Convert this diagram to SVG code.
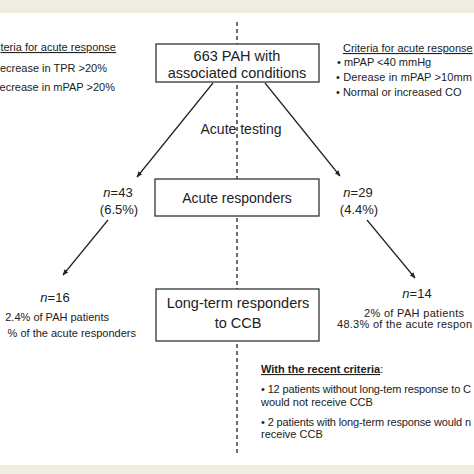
<svg xmlns="http://www.w3.org/2000/svg" width="474" height="474" viewBox="0 0 474 474">
<defs>
<style>
text{font-family:"Liberation Sans",Arial,sans-serif;fill:#222}
.box{fill:#fff;stroke:#333;stroke-width:1.3}
.conn{stroke:#222;stroke-width:1.2;fill:none}
.dash{stroke:#222;stroke-width:1.3;stroke-dasharray:4 3;fill:none}
.m{font-size:14.5px;text-anchor:middle}
.s{font-size:11px}
.n{font-size:13px;text-anchor:middle}
.u{text-decoration:underline}
</style>
<marker id="ah" viewBox="0 0 10 10" refX="9" refY="5" markerWidth="6" markerHeight="6" orient="auto" markerUnits="userSpaceOnUse">
<path d="M0,1 L10,5 L0,9 Z" fill="#222"/>
</marker>
</defs>
<rect width="474" height="474" fill="#fff"/>
<rect x="0" y="0" width="474" height="13" fill="#f0ece1"/>
<rect x="0" y="465" width="474" height="9" fill="#f0ece1"/>
<g id="connectors">
<line class="dash" x1="237" y1="22" x2="237" y2="456"/>
<line class="conn" x1="213" y1="83" x2="137" y2="177" marker-end="url(#ah)"/>
<line class="conn" x1="265" y1="83" x2="340" y2="176" marker-end="url(#ah)"/>
<line class="conn" x1="108" y1="220" x2="63" y2="275" marker-end="url(#ah)"/>
<line class="conn" x1="367" y1="220" x2="415" y2="278" marker-end="url(#ah)"/>
</g>
<g id="node-pah">
<rect class="box" x="156" y="44" width="163" height="38"/>
<text class="m" x="237" y="61">663 PAH with</text>
<text class="m" x="237" y="78">associated conditions</text>
</g>
<g id="label-acute-testing">
<text class="m" x="241" y="134" style="font-size:14px">Acute testing</text>
</g>
<g id="node-acute-responders">
<rect class="box" x="155" y="179" width="164" height="37"/>
<text class="m" x="237" y="203" style="font-size:14px">Acute responders</text>
</g>
<g id="node-long-term">
<rect class="box" x="156" y="289" width="163" height="52"/>
<text class="m" x="238" y="308">Long-term responders</text>
<text class="m" x="238" y="328">to CCB</text>
</g>
<g id="left-criteria">
<text class="s u" x="116" y="51" text-anchor="end">teria for acute response</text>
<text class="s" x="107" y="72" text-anchor="end">ecrease in TPR &gt;20%</text>
<text class="s" x="115" y="91" text-anchor="end">ecrease in mPAP &gt;20%</text>
</g>
<g id="right-criteria">
<text class="s u" x="343" y="52">Criteria for acute response</text>
<text class="s" x="337" y="66">• mPAP &lt;40 mmHg</text>
<text class="s" x="336" y="81" textLength="136" lengthAdjust="spacing">•  Derease in mPAP &gt;10mm</text>
<text class="s" x="336" y="96">•  Normal or increased CO</text>
</g>
<g id="left-n43">
<text class="n" x="118" y="197"><tspan font-style="italic">n</tspan>=43</text>
<text class="n" x="119" y="214">(6.5%)</text>
</g>
<g id="right-n29">
<text class="n" x="358" y="197"><tspan font-style="italic">n</tspan>=29</text>
<text class="n" x="359" y="214">(4.4%)</text>
</g>
<g id="left-n16">
<text class="n" x="55" y="302"><tspan font-style="italic">n</tspan>=16</text>
<text class="s" x="109" y="321" text-anchor="end">2.4% of PAH patients</text>
<text class="s" x="136" y="337" text-anchor="end">% of the acute responders</text>
</g>
<g id="right-n14">
<text class="n" x="417" y="298"><tspan font-style="italic">n</tspan>=14</text>
<text class="s" x="364" y="317" textLength="100" lengthAdjust="spacing">2% of PAH patients</text>
<text class="s" x="337" y="328" textLength="135" lengthAdjust="spacing">48.3% of the acute respon</text>
</g>
<g id="recent-criteria">
<text class="s" x="261" y="373"><tspan class="u" font-weight="bold">With the recent criteria</tspan>:</text>
<text class="s" x="261" y="393" textLength="210" lengthAdjust="spacing">• 12 patients without long-tem response to C</text>
<text class="s" x="261" y="406">would not receive CCB</text>
<text class="s" x="261" y="426" textLength="210" lengthAdjust="spacing">• 2 patients with long-term response would n</text>
<text class="s" x="261" y="438">receive CCB</text>
</g>
</svg>
